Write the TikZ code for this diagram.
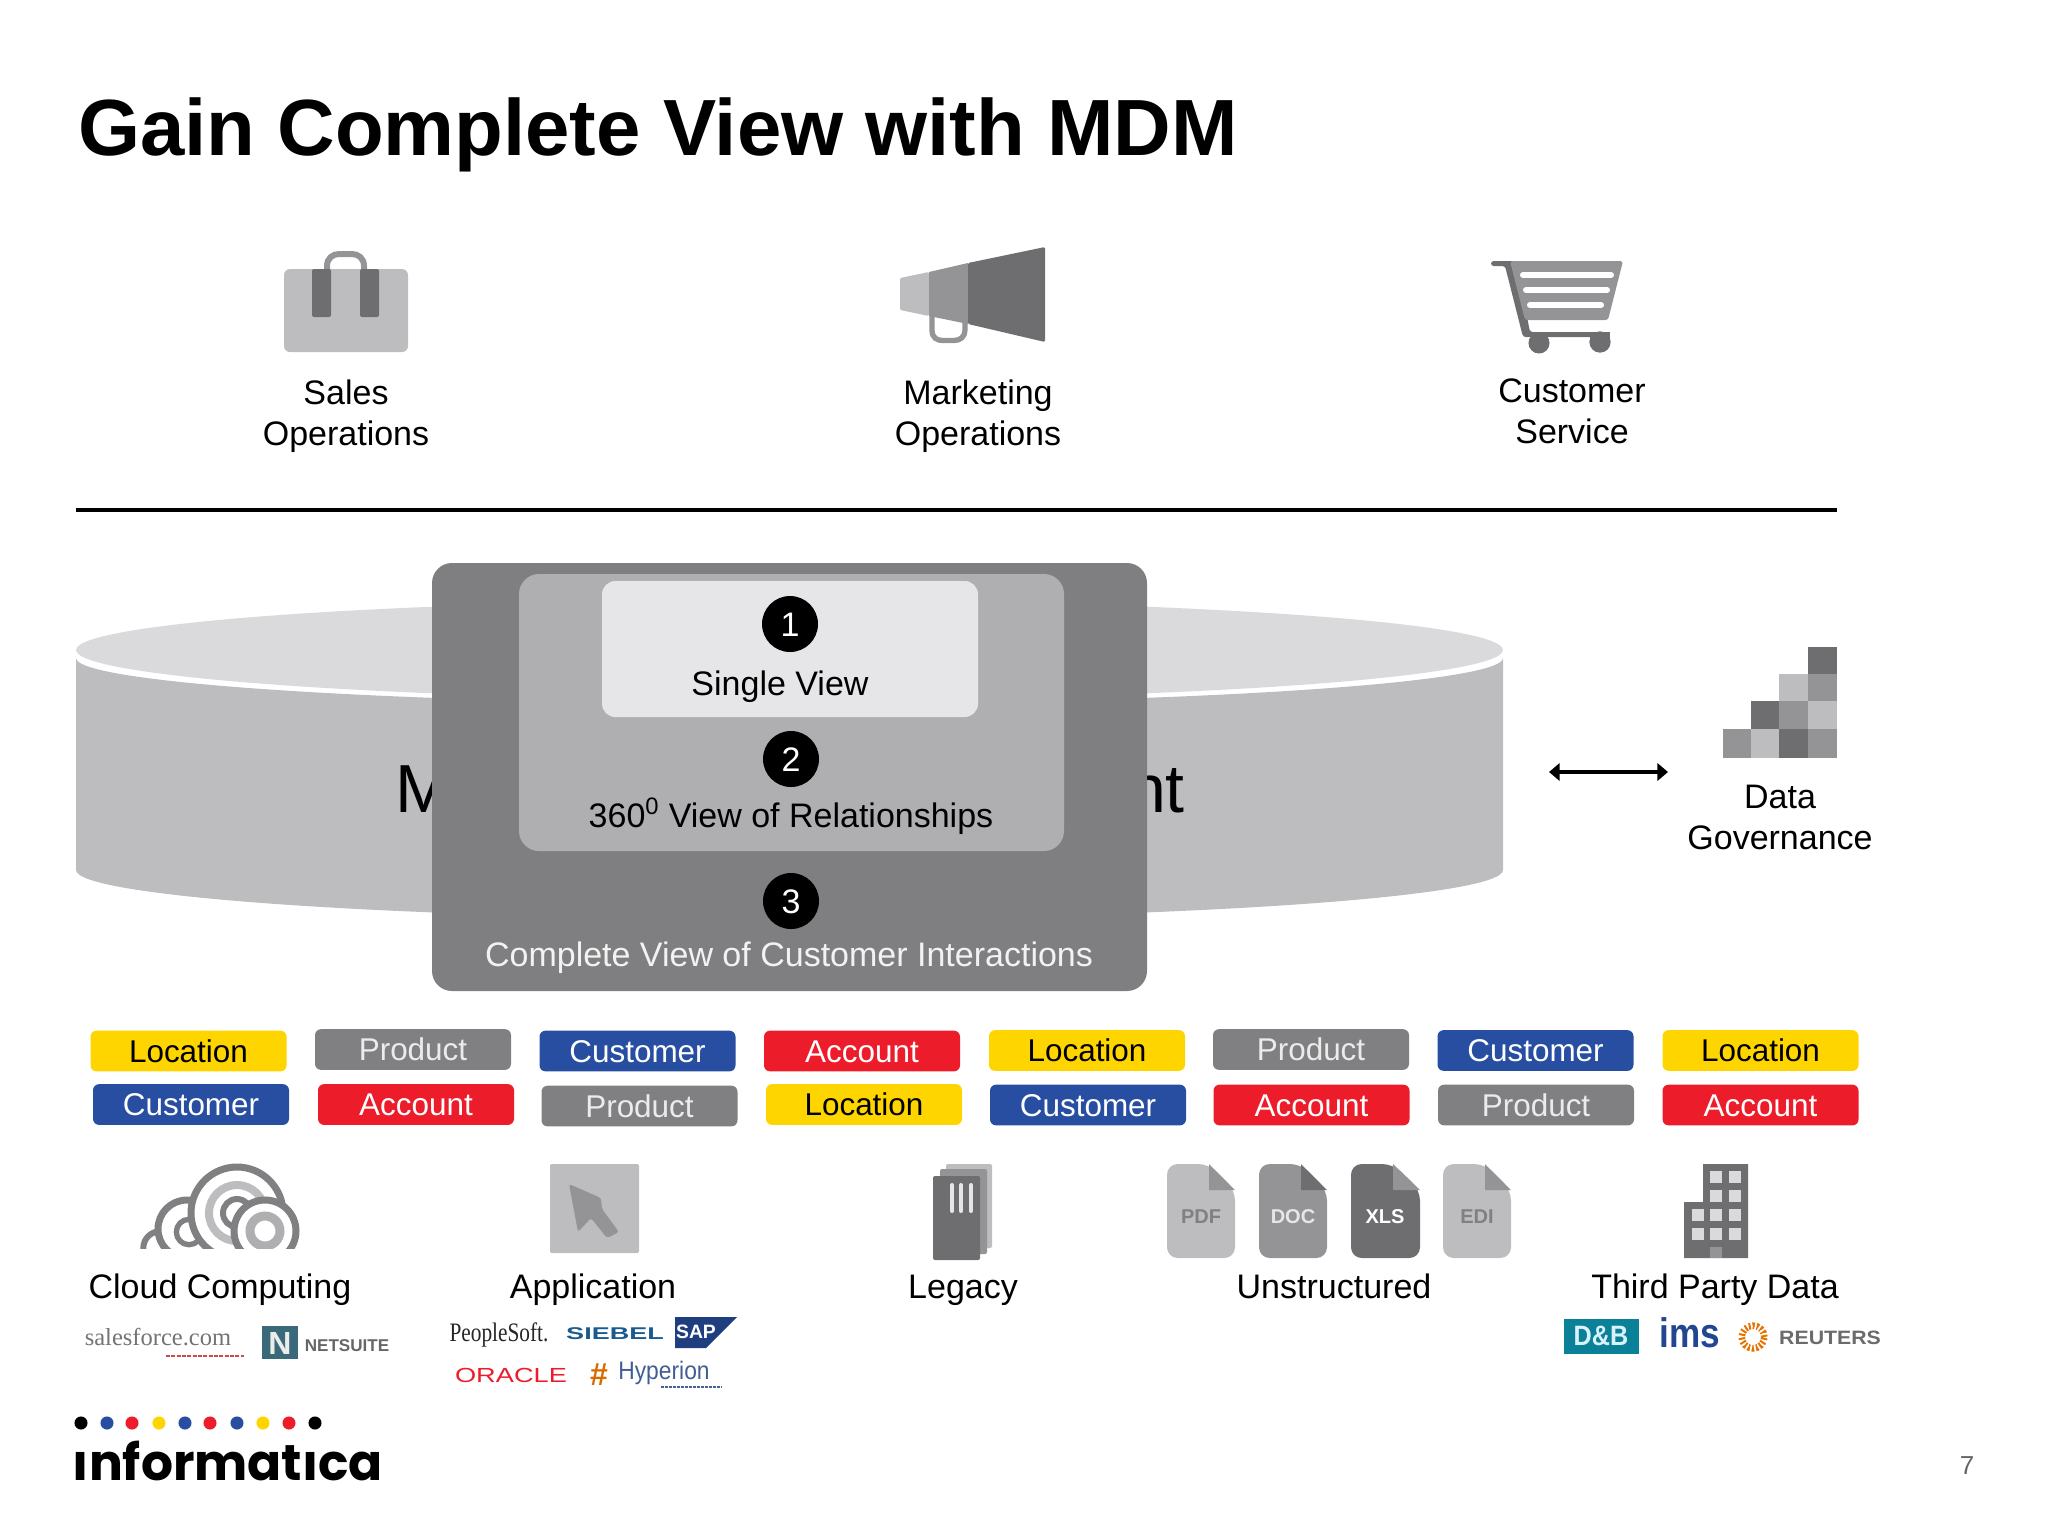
\documentclass[tikz,border=0pt]{standalone}
\usepackage{fontspec}
\usepackage{graphicx}
\setmainfont{Liberation Sans}
\newfontfamily\serifface{Liberation Serif}
\newfontfamily\logoface{Poppins}
\usetikzlibrary{arrows.meta}
\newcommand{\pxf}[1]{\fontsize{#1}{#1}\selectfont}
\definecolor{gA}{HTML}{6E6E70}
\definecolor{gB}{HTML}{949496}
\definecolor{gC}{HTML}{BDBDBF}
\definecolor{gD}{HTML}{DADADC}
\definecolor{gE}{HTML}{E6E6E8}
\definecolor{gPanel}{HTML}{7F7F81}
\definecolor{gMid}{HTML}{AFAFB1}
\definecolor{tagY}{HTML}{FFD500}
\definecolor{tagG}{HTML}{808082}
\definecolor{tagB}{HTML}{274EA0}
\definecolor{tagR}{HTML}{ED1C2A}
\definecolor{nsTeal}{HTML}{3A6A7A}
\tikzset{
  lab/.style={font=\fontsize{25.5}{30.75}\selectfont,inner sep=0pt,align=center,text=black},
  tag/.style={rectangle,rounded corners=4.5pt,minimum width=147pt,minimum height=30.5pt,inner sep=0pt,
    font=\pxf{23.6},text height=17pt,text depth=0pt},
  tY/.style={tag,fill=tagY,text=black},
  tG/.style={tag,fill=tagG,text=white!92!black},
  tB/.style={tag,fill=tagB,text=white},
  tR/.style={tag,fill=tagR,text=white},
  num/.style={circle,fill=black,text=white,minimum size=42pt,inner sep=0pt,font=\pxf{25.5},text height=18.3pt,text depth=0pt},
  doc/.style={font=\bfseries\pxf{15},inner sep=0pt},
  logo/.style={inner sep=0pt,anchor=base},
}
\begin{document}
\begin{tikzpicture}[x=0.75pt,y=-0.75pt]
\useasboundingbox (0,0) rectangle (2048,1536);

% title and rule
\node[anchor=base west,inner sep=0pt,font=\bfseries\pxf{59.8}] (title) at (78,155) {Gain Complete View with MDM};
\coordinate (ruleL) at (76,510);
\coordinate (ruleR) at (1837,510);
\draw[line width=3pt,black] (ruleL) -- (ruleR);

% bag
\draw[gB,line width=4.5pt] (327,272) -- (327,266) .. controls (327,258) and (333,254) .. (339,254) -- (352,254) .. controls (358,254) and (364,258) .. (364,266) -- (364,272);
\fill[gC,rounded corners=4.5pt] (284,269) rectangle (408,352);
\fill[gA,rounded corners=1.5pt] (312,269) -- (331,269) -- (331,317) -- (312,317) -- cycle;
\fill[gA,rounded corners=1.5pt] (360,269) -- (379,269) -- (379,317) -- (360,317) -- cycle;
\node[lab] (sales) at (346,416) {Sales\\Operations};

% megaphone
\begin{scope}[xshift=-2.25pt]
\draw[gB,line width=4pt] (935,316) -- (935,330) .. controls (935,338) and (940,340.5) .. (946,340.5) -- (957,340.5) .. controls (963,340.5) and (968,337) .. (968,330) -- (968,320);
\fill[gC,rounded corners=1pt] (903,278) -- (932,272) -- (932,316) -- (903,310) -- cycle;
\fill[gB] (932,272) -- (971,263) -- (971,324) -- (932,316) -- cycle;
\fill[gA,rounded corners=1pt] (971,263) -- (1048,247) -- (1048,342) -- (971,324) -- cycle;
\end{scope}
\node[lab] (marketing) at (978,416) {Marketing\\Operations};

% cart
\fill[gA,rounded corners=2pt] (1491,261) -- (1510,261) -- (1516,261) -- (1530,332) -- (1603,332) -- (1603,337) -- (1523,337) -- (1505,266) -- (1491,266) -- cycle;
\fill[gA] (1539,343) circle[radius=7.9pt];
\fill[gA] (1600,342) circle[radius=8pt];
\fill[gA] (1590,332) rectangle (1610,340);
\fill[gB,rounded corners=2pt] (1510,261) -- (1623,261) -- (1608,320) -- (1525,320) -- cycle;
\draw[white,line width=4.5pt,line cap=round] (1523,275) -- (1611,275);
\draw[white,line width=4.5pt,line cap=round] (1526,290) -- (1607,290);
\draw[white,line width=4.5pt,line cap=round] (1530,305) -- (1601,305);
\node[lab] (service) at (1572,411) {Customer\\Service};

% cylinder
\fill[gC] (76,658) -- (76,870) .. controls (76,897) and (395.5,919) .. (789.5,919) .. controls (1183.5,919) and (1503,897) .. (1503,870) -- (1503,658) .. controls (1503,683.4) and (1183.5,704) .. (789.5,704) .. controls (395.5,704) and (76,683.4) .. (76,658) -- cycle;
\fill[gD] (789.5,650) ellipse[x radius=535.1pt,y radius=37.5pt];
\node[anchor=base west,inner sep=0pt,font=\pxf{51}] (mL) at (395,812) {M};
\node[anchor=base east,inner sep=0pt,font=\pxf{51}] (mR) at (1185,812) {nt};

% nested panels
\fill[gPanel,rounded corners=15pt] (432,563) rectangle (1147,991);
\fill[gMid,rounded corners=15pt] (519,574) rectangle (1064,851);
\fill[gE,rounded corners=10pt] (602,581) rectangle (978,717);
\node[num] (n1) at (790,624) {1};
\node[num] (n2) at (791,759) {2};
\node[num] (n3) at (791,901) {3};
\node[lab,anchor=base] (single) at (780,695) {Single View};
\node[lab,anchor=base] (rel) at (791,827) {360\textsuperscript{0} View of Relationships};
\node[lab,anchor=base,text=white!95!black] (complete) at (789,966) {Complete View of Customer Interactions};

% governance
\coordinate (arrL) at (1549,772);
\coordinate (arrR) at (1668,772);
\draw[{Triangle[length=8pt,width=13pt]}-{Triangle[length=8pt,width=13pt]},line width=3.6pt,black] (arrL) -- (arrR);
\fill[gA] (1808,647) rectangle (1837,674);
\fill[gC] (1779,674) rectangle (1808,701);
\fill[gB] (1808,674) rectangle (1837,701);
\fill[gA] (1751,701) rectangle (1779,729);
\fill[gB] (1779,701) rectangle (1808,729);
\fill[gC] (1808,701) rectangle (1837,729);
\fill[gB] (1723,729) rectangle (1751,758);
\fill[gC] (1751,729) rectangle (1779,758);
\fill[gA] (1779,729) rectangle (1808,758);
\fill[gB] (1808,729) rectangle (1837,758);
\node[lab] (gov) at (1780,817) {Data\\Governance};

% tags
\node[tY] (a1) at (188.5,1051) {Location};
\node[tG] (a2) at (413,1049.5) {Product};
\node[tB] (a3) at (637.5,1051) {Customer};
\node[tR] (a4) at (862,1051) {Account};
\node[tY] (a5) at (1087,1050.5) {Location};
\node[tG] (a6) at (1311,1049.5) {Product};
\node[tB] (a7) at (1535.5,1050.5) {Customer};
\node[tY] (a8) at (1760.5,1050.5) {Location};
\node[tB] (b1) at (191,1104.5) {Customer};
\node[tR] (b2) at (416,1104.5) {Account};
\node[tG] (b3) at (639.5,1106) {Product};
\node[tY] (b4) at (864,1104.5) {Location};
\node[tB] (b5) at (1088,1105) {Customer};
\node[tR] (b6) at (1311.5,1105) {Account};
\node[tG] (b7) at (1536,1105) {Product};
\node[tR] (b8) at (1760.5,1105) {Account};

% cloud icon
\begin{scope}
\clip (120,1150) rectangle (320,1248);
\draw[tagG,line width=4.5pt,fill=white] (160,1248) circle[radius=12.5pt];
\draw[tagG,line width=5.25pt,fill=white] (187,1229) circle[radius=21.75pt];
\draw[tagG,line width=4pt] (189,1232) circle[radius=9.5pt];
\draw[tagG,line width=5.25pt,fill=white] (237,1213) circle[radius=34.5pt];
\draw[gC,line width=6pt] (237,1213) circle[radius=21pt];
\draw[tagG,line width=4.5pt] (237,1213) circle[radius=10.5pt];
\draw[tagG,line width=5.25pt,fill=white] (265,1231) circle[radius=23.25pt];
\draw[gMid,line width=6.75pt] (265,1231) circle[radius=11.25pt];
\end{scope}
\node[lab,anchor=base] (cloud) at (220,1298) {Cloud Computing};

% application icon
\begin{scope}[xshift=-1.5pt]
\fill[gC,rounded corners=1pt] (552,1164) rectangle (641,1253);
\fill[gB,rounded corners=2pt] (571,1184) -- (603,1198) -- (604,1209) -- (621,1232) -- (609,1238) -- (593,1218) -- (580,1232) -- cycle;
\end{scope}
\node[lab,anchor=base] (app) at (593,1298) {Application};

% legacy icon
\fill[gC,rounded corners=1.5pt] (946,1164) rectangle (992,1248);
\fill[gB,rounded corners=1.5pt] (940,1169) rectangle (987,1254);
\fill[gA,rounded corners=1.5pt] (933,1176) rectangle (980,1260);
\draw[gE,line width=3pt,line cap=round] (952,1185) -- (952,1211);
\draw[gE,line width=3pt,line cap=round] (961,1185) -- (961,1211);
\draw[gE,line width=3pt,line cap=round] (971,1185) -- (971,1211);
\node[lab,anchor=base] (legacy) at (963,1298) {Legacy};

% unstructured icons
\fill[gC,rounded corners=8pt] (1167,1164) -- (1209,1164) -- (1235,1190) -- (1235,1258) -- (1167,1258) -- cycle;
\fill[gB] (1209,1164) -- (1235,1190) -- (1209,1190) -- cycle;
\node[doc,text=tagG] (pdf) at (1201,1217) {PDF};
\fill[gB,rounded corners=8pt] (1259,1164) -- (1301,1164) -- (1327,1190) -- (1327,1258) -- (1259,1258) -- cycle;
\fill[gA] (1301,1164) -- (1327,1190) -- (1301,1190) -- cycle;
\node[doc,text=gE] (docx) at (1293,1217) {DOC};
\fill[gA,rounded corners=8pt] (1351,1164) -- (1393,1164) -- (1420,1190) -- (1420,1258) -- (1351,1258) -- cycle;
\fill[gB] (1393,1164) -- (1420,1190) -- (1393,1190) -- cycle;
\node[doc,text=white] (xls) at (1385,1217) {XLS};
\fill[gC,rounded corners=8pt] (1443,1164) -- (1485,1164) -- (1511,1190) -- (1511,1258) -- (1443,1258) -- cycle;
\fill[gB] (1485,1164) -- (1511,1190) -- (1485,1190) -- cycle;
\node[doc,text=tagG] (edi) at (1477,1217) {EDI};
\node[lab,anchor=base] (unstruct) at (1334,1298) {Unstructured};

% building
\fill[gA] (1703,1164) -- (1748,1164) -- (1748,1258) -- (1684,1258) -- (1684,1202) -- (1703,1202) -- cycle;
\foreach \wx/\wy in {1710/1171,1729/1171,1710/1190,1729/1190,1692/1209,1710/1209,1729/1209,1692/1228,1710/1228,1729/1228}
  \fill[gD] (\wx,\wy) rectangle ++(12,12);
\fill[gB] (1710,1247) rectangle (1722,1258);
\node[lab,anchor=base] (third) at (1715,1298) {Third Party Data};

% vendor marks
\node[logo,text=black!55,font=\serifface\pxf{18.4}] (sf) at (158,1345) {salesforce.com};
\draw[red!70!black,line width=1.2pt,dash pattern=on 3pt off 1pt,opacity=.7] (166,1356) -- (244,1356);
\fill[nsTeal] (262,1326) rectangle (298,1359);
\node[inner sep=0pt,text=white!85!gray,font=\bfseries\pxf{24}] (ns1) at (280,1343) {N};
\node[logo,text=black!60,font=\bfseries\pxf{12.8}] (ns2) at (347,1351) {NETSUITE};
\node[logo,text=black!85,font=\serifface\pxf{20}] (ps) at (499,1341) {\scalebox{.8}[1]{PeopleSoft.}};
\node[logo,text=tagB!80!cyan!80!black,font=\bfseries\pxf{15}] (sb) at (615,1339) {\scalebox{1.35}[.85]{SIEBEL}};
\begin{scope}[xshift=-2.25pt]
\fill[tagB!80!black] (678,1317) -- (740,1317) -- (709,1348) -- (678,1348) -- cycle;
\node[inner sep=0pt,text=white,font=\bfseries\pxf{14.5},anchor=base] (sap) at (699,1338) {SAP};
\end{scope}
\node[logo,text=tagR,font=\pxf{17}] (orc) at (511,1382) {\scalebox{1.2}[.9]{ORACLE}};
\node[inner sep=0pt,text=orange!85!black,font=\bfseries\pxf{24}] (hash) at (599,1375) {\#};
\node[logo,text=tagB!70!gray,font=\pxf{19}] (hyp) at (664,1379) {\scalebox{.9}[1]{Hyperion}};
\draw[tagB!60!gray,line width=1.2pt,dash pattern=on 2pt off 1pt] (661,1387) -- (722,1387);
\fill[tagB!40!cyan!70!black] (1564,1319) rectangle (1639,1354);
\node[inner sep=0pt,text=white!85!cyan,font=\bfseries\pxf{21}] (dnb) at (1601,1336) {\scalebox{.9}[1]{D\&B}};
\node[logo,text=tagB!90!black,font=\bfseries\pxf{31}] (ims) at (1690,1347) {\scalebox{.85}[1]{ims}};
\draw[orange!90!black,line width=5pt,dash pattern=on 1.5pt off 1.5pt] (1753,1337) circle[radius=8.5pt];
\node[logo,text=black!58,font=\bfseries\pxf{14.5}] (reu) at (1830,1344) {\scalebox{1.1}[1]{REUTERS}};

% company mark
\foreach \dx/\dc in {81/black,107/tagB,132/tagR,159/tagY,185/tagB,210/tagR,237/tagB,263/tagY,289/tagR,315/black}
  \fill[\dc] (\dx,1423) circle[radius=4.9pt];
\node[anchor=base,inner sep=0pt,font=\logoface\bfseries\pxf{37.7}] (brand) at (228,1480) {\i nformat\i ca};

\node[inner sep=0pt,text=black!60,font=\pxf{19.5}] (page) at (1967,1466) {7};
\end{tikzpicture}
\end{document}
